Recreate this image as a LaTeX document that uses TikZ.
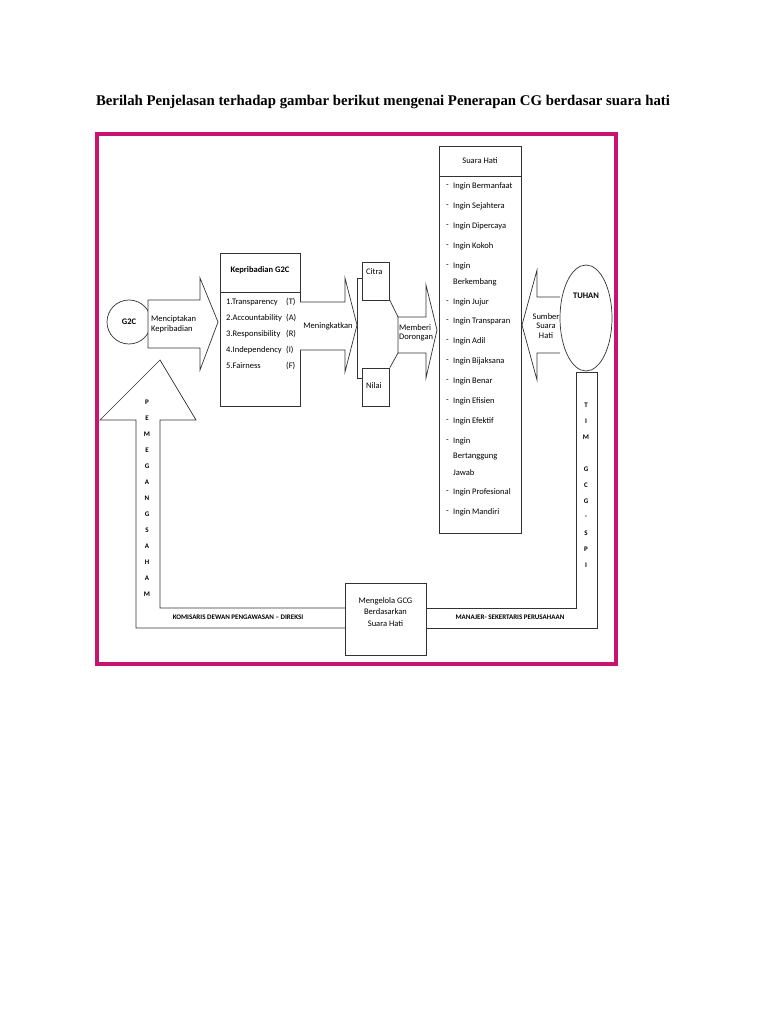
\documentclass[tikz,border=0pt]{standalone}
\usepackage{fontspec}
\usetikzlibrary{shapes.geometric}
\setmainfont{Carlito}
\newfontfamily\titlefont{Liberation Serif}
\definecolor{frame}{RGB}{200,20,110}
\begin{document}
\begin{tikzpicture}[x=1pt,y=-1pt,
  ln/.style={draw=black!80,line width=0.7pt},
  txt/.style={font=\fontsize{8.5}{9.5}\selectfont,inner sep=0pt},
  itm/.style={txt,anchor=west,align=left},
  bold/.style={txt,font=\fontsize{8.5}{9.5}\selectfont\bfseries}]
\useasboundingbox[fill=white] (0,0) rectangle (768,1024);
\node[font=\titlefont\bfseries\fontsize{14.8}{16}\selectfont] (title) at (383,102) {Berilah Penjelasan terhadap gambar berikut mengenai Penerapan CG berdasar suara hati};
\draw[frame,line width=4pt] (97,134) rectangle (616,664);
% G2C
\node[ln,circle,minimum size=44pt,inner sep=0pt,font=\fontsize{8.5}{9}\selectfont\bfseries] (g2c) at (129,322) {G2C};
% arrow Menciptakan
\draw[ln,fill=white] (148,300) -- (200,300) -- (200,278) -- (218,322) -- (200,370) -- (200,348) -- (148,348) -- cycle;
\node[itm] (menc) at (151,324) {Menciptakan\\Kepribadian};
% Kepribadian box
\draw[ln] (220,253) rectangle (300,406);
\draw[ln] (220,292) -- (300,292);
\node[bold] (kephead) at (260,270) {Kepribadian G2C};
\node[itm] (k1) at (226,302) {1.Transparency};
\node[itm] (k2) at (226,318) {2.Accountability};
\node[itm] (k3) at (226,334) {3.Responsibility};
\node[itm] (k4) at (226,350) {4.Independency};
\node[itm] (k5) at (226,366) {5.Fairness};
\foreach \l/\y in {(T)/302,(A)/318,(R)/334,(I)/350,(F)/366}{\node[itm] at (286,\y) {\l};}
% Meningkatkan
\draw[ln,fill=white] (300,302) -- (345,302) -- (345,278) -- (357,325) -- (345,372) -- (345,350) -- (300,350);
\node[txt] (mening) at (328,326) {Meningkatkan};
% bracket
\draw[ln] (362,278) -- (357,278) -- (357,378) -- (362,378);
\node[ln,minimum width=27pt,minimum height=38pt,inner sep=0pt] (citra) at (376,281) {};
\node[itm] at (366,272) {Citra};
\node[ln,minimum width=27pt,minimum height=38pt,inner sep=0pt] (nilai) at (376,387) {};
\node[itm] at (366,386) {Nilai};
% Memberi Dorongan
\draw[ln] (citra.south east) -- (398,317);
\draw[ln] (nilai.north east) -- (398,353);
\draw[ln,fill=white] (398,317) -- (426,317) -- (426,285) -- (437,330) -- (426,378) -- (426,353) -- (398,353) -- cycle;
\node[itm] (memb) at (399,333) {Memberi\\Dorongan};
% Suara Hati
\draw[ln] (439,146) rectangle (521,533);
\draw[ln] (439,176) -- (521,176);
\node[txt] (shead) at (480,161) {Suara Hati};
\foreach \t/\y in {Ingin Bermanfaat/186,Ingin Sejahtera/206,Ingin Dipercaya/226,Ingin Kokoh/246,Ingin/266,Ingin Jujur/302,Ingin Transparan/321,Ingin Adil/341,Ingin Bijaksana/361,Ingin Benar/381,Ingin Efisien/401,Ingin Efektif/421,Ingin/441,Ingin Profesional/492,Ingin Mandiri/512}{
  \node[itm] at (446,\y) {-}; \node[itm] at (453,\y) {\t};}
\node[itm] at (453,282) {Berkembang};
\node[itm] at (453,457) {Bertanggung};
\node[itm] at (453,473) {Jawab};
% Sumber arrow
\draw[ln,fill=white] (560,297) -- (537,297) -- (537,270) -- (522,325) -- (537,380) -- (537,353) -- (560,353);
\node[txt,align=center] (sumber) at (546,326) {Sumber\\Suara\\Hati};
\node[ln,ellipse,minimum width=52pt,minimum height=106pt,inner sep=0pt] (tuhan) at (586,318) {};
\node[bold] at (586,296) {TUHAN};
% bottom U band
\draw[ln] (576,372) -- (576,608) -- (426,608);
\draw[ln] (597,372) -- (597,628) -- (426,628);
\draw[ln] (576,372) -- (597,372);
\draw[ln] (345,608) -- (160,608) -- (160,420) -- (196,420) -- (160,360) -- (100,420) -- (136,420) -- (136,628) -- (345,628);
\node[ln,minimum width=81pt,minimum height=72pt,inner sep=0pt] (mgl) at (385.5,619) {};
\node[txt,align=center] at (385.5,612) {Mengelola GCG\\[2pt]Berdasarkan\\[2pt]Suara Hati};
\node[txt,font=\fontsize{7}{8}\selectfont\bfseries] (kom) at (238,617) {KOMISARIS DEWAN PENGAWASAN -- DIREKSI};
\node[txt,font=\fontsize{7}{8}\selectfont\bfseries] (man) at (510,617) {MANAJER- SEKERTARIS PERUSAHAAN};
\foreach \c [count=\i] in {P,E,M,E,G,A,N,G,S,A,H,A,M}{\node[bold,font=\fontsize{7}{8}\selectfont\bfseries] at (147,386+16*\i) {\c};}
\foreach \c/\y in {T/405,I/421,M/437,G/469,C/485,G/501,-/517,S/533,P/549,I/565}{\node[bold,font=\fontsize{7}{8}\selectfont\bfseries] at (586,\y) {\c};}
\end{tikzpicture}
\end{document}
